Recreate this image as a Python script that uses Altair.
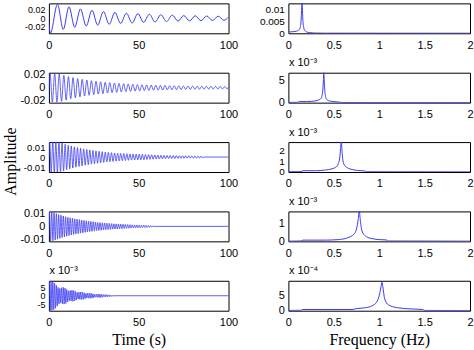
import altair as alt
import pandas as pd

LINE = "#3a3af2"

# ---------------- time histories ----------------
# panel 1: individual extremes (time s, amplitude)
p1_t = [0, 0.8, 4.8, 7.99, 11.19, 14.38, 17.58, 20.77, 23.97, 27.16, 30.36, 33.55,
        36.75, 39.94, 43.14, 46.33, 49.53, 52.72, 55.92, 59.11, 62.31, 65.5, 68.7,
        71.89, 75.09, 78.28, 81.48, 84.67, 87.87, 91.06, 94.26, 97.45, 100]
p1_v = [-0.012, -0.035, 0.033, -0.026, 0.027, -0.021, 0.022, -0.018, 0.019, -0.016,
        0.016, -0.014, 0.014, -0.012, 0.012, -0.011, 0.011, -0.0095, 0.0095, -0.0085,
        0.0085, -0.0075, 0.0075, -0.0065, 0.0065, -0.006, 0.006, -0.0055, 0.0055,
        -0.005, 0.005, -0.0045, 0.003]

# panels 2-5: oscillation period (s) and amplitude of every cycle read from the envelope
p2_period = 2.56
p2_amp = [0.022, 0.022, 0.021, 0.019, 0.017, 0.0155, 0.014, 0.0128, 0.0117, 0.0107,
          0.0098, 0.009, 0.0083, 0.0077, 0.0071, 0.0066, 0.0061, 0.0057, 0.0053, 0.0049,
          0.0046, 0.0043, 0.004, 0.0038, 0.0036, 0.0034, 0.0032, 0.003, 0.0029, 0.0027,
          0.0026, 0.0025, 0.0024, 0.0023, 0.0022, 0.0021, 0.002, 0.0019, 0.0018, 0.0017]
p3_period = 1.72
p3_amp = [0.0165, 0.016, 0.0155, 0.0148, 0.014, 0.0128, 0.0118, 0.011, 0.0102, 0.0095,
          0.0088, 0.0082, 0.0076, 0.0071, 0.0066, 0.0062, 0.0058, 0.0054, 0.005, 0.0047,
          0.0044, 0.0041, 0.0039, 0.0037, 0.0035, 0.0033, 0.0031, 0.003, 0.0029, 0.0028,
          0.0027, 0.0025, 0.0024, 0.0022, 0.0021, 0.002, 0.0018, 0.0017, 0.0016, 0.0015,
          0.0015, 0.0014, 0.0013, 0.0013, 0.0012, 0.0012, 0.0011, 0.0011, 0.001, 0.0009]
p4_period = 1.28
p4_amp = [0.0112, 0.011, 0.0105, 0.0098, 0.0092, 0.0086, 0.008, 0.0075, 0.007, 0.0066,
          0.0062, 0.0058, 0.0055, 0.0052, 0.0049, 0.0046, 0.0043, 0.004, 0.0038, 0.0036,
          0.0033, 0.0031, 0.0029, 0.0027, 0.0026, 0.0024, 0.0023, 0.0021, 0.002, 0.0019,
          0.0018, 0.0017, 0.0016, 0.0015, 0.0014, 0.0013, 0.0012, 0.0011, 0.0011, 0.001,
          0.0009, 0.0009, 0.0008, 0.0007, 0.0006, 0.0005]
p5_period = 0.97
p5_amp = [8.5, 8.5, 8.0, 7.2, 6.0, 4.8, 4.2, 4.6, 4.8, 4.4, 3.6, 2.8, 3.0, 3.2, 3.0,
          2.5, 1.9, 2.1, 2.2, 2.1, 1.7, 1.3, 1.4, 1.5, 1.4, 1.1, 0.8, 0.9, 1.0, 1.0,
          0.8, 0.6, 0.6, 0.6, 0.5, 0.4, 0.3]  # x 10^-3

# ---------------- spectra (frequency Hz, amplitude) ----------------
s1_f = [0, 0.03, 0.06, 0.09, 0.11, 0.12, 0.13, 0.14, 0.145, 0.15, 0.155, 0.16, 0.17,
        0.18, 0.2, 0.23, 0.27, 0.3, 0.4, 2.0]
s1_a = [0.0006, 0.0006, 0.0007, 0.0009, 0.0012, 0.0016, 0.0025, 0.0055, 0.0095, 0.014,
        0.0095, 0.005, 0.0022, 0.0012, 0.0006, 0.0003, 0.00015, 0.0001, 0.00005, 0.00002]
s2_f = [0, 0.1, 0.12, 0.2, 0.28, 0.33, 0.36, 0.37, 0.38, 0.385, 0.39, 0.395, 0.4, 0.41,
        0.42, 0.45, 0.5, 0.55, 0.6, 2.0]
s2_a = [0.05, 0.08, 0.25, 0.25, 0.35, 0.6, 1.0, 1.6, 3.2, 5.0, 7.0, 5.0, 3.0, 1.4, 0.8,
        0.4, 0.25, 0.15, 0.03, 0.01]  # x 10^-3
s3_f = [0, 0.14, 0.16, 0.3, 0.4, 0.48, 0.53, 0.55, 0.565, 0.575, 0.582, 0.59, 0.6, 0.62,
        0.66, 0.72, 0.8, 0.84, 0.86, 2.0]
s3_a = [0.02, 0.03, 0.12, 0.12, 0.18, 0.3, 0.5, 0.8, 1.3, 2.2, 3.0, 2.0, 1.1, 0.6, 0.35,
        0.2, 0.12, 0.1, 0.02, 0.01]  # x 10^-3
s4_f = [0, 0.14, 0.16, 0.4, 0.55, 0.65, 0.72, 0.75, 0.77, 0.78, 0.79, 0.81, 0.85, 0.9,
        1.0, 1.08, 1.1, 2.0]
s4_a = [0.01, 0.02, 0.07, 0.07, 0.1, 0.2, 0.4, 0.7, 1.3, 1.8, 1.3, 0.6, 0.3, 0.18, 0.1,
        0.08, 0.02, 0.01]  # x 10^-3
s5_f = [0, 0.14, 0.16, 0.7, 0.75, 0.85, 0.92, 0.97, 1.0, 1.02, 1.03, 1.04, 1.06, 1.1,
        1.2, 1.35, 1.48, 1.5, 2.0]
s5_a = [0.1, 0.15, 0.4, 0.4, 0.7, 1.0, 1.6, 2.8, 5.0, 8.0, 9.5, 8.0, 4.0, 2.0, 1.0,
        0.6, 0.4, 0.1, 0.05]  # x 10^-4

# ---------------- axis settings ----------------
time_ticks = [0, 50, 100]
time_labels = ["0", "50", "100"]
freq_ticks = [0, 0.5, 1, 1.5, 2]
freq_labels = ["0", "0.5", "1", "1.5", "2"]

left_dom = [[-0.035, 0.035], [-0.023, 0.023], [-0.015, 0.015], [-0.0115, 0.0115], [-8.6, 8.6]]
left_ticks = [[-0.02, 0, 0.02], [-0.02, 0, 0.02], [-0.01, 0, 0.01], [-0.01, 0, 0.01], [-5, 0, 5]]
left_labels = [["-0.02", "0", "0.02"], ["-0.02", "0", "0.02"], ["-0.01", "0", "0.01"],
               ["-0.01", "0", "0.01"], ["-5", "0", "5"]]
left_label_size = [9, 11, 9.5, 11, 9]
right_dom = [[0, 0.0125], [0, 6.9], [0, 2.8], [0, 1.7], [0, 10.0]]
right_ticks = [[0, 0.005, 0.01], [0, 5], [0, 1, 2], [0, 1], [0, 5]]
right_labels = [["0", "0.005", "0.01"], ["0", "5"], ["0", "1", "2"], ["0", "1"], ["0", "5"]]
right_label_size = [10, 11, 10, 11, 11]
right_exp = [None, "x 10\u207b\u00b3", "x 10\u207b\u00b3", "x 10\u207b\u00b3", "x 10\u207b\u2074"]
left_exp = [None, None, None, None, "x 10\u207b\u00b3"]


def cycles(period, amps):
    t, v = [0.0], [0.0]
    for k, a in enumerate(amps):
        t += [k * period + period / 4, k * period + 3 * period / 4]
        v += [a, -a]
    t.append(len(amps) * period)
    v.append(0.0)
    if t[-1] < 100:
        t.append(100.0)
        v.append(0.0)
    return pd.DataFrame({"t": t, "v": v})


def lab_expr(vals, labs):
    expr = "''"
    for val, lab in reversed(list(zip(vals, labs))):
        expr = f"abs(datum.value - ({val})) < 1e-9 ? '{lab}' : {expr}"
    return expr


time_dfs = [pd.DataFrame({"t": p1_t, "v": p1_v}), cycles(p2_period, p2_amp),
            cycles(p3_period, p3_amp), cycles(p4_period, p4_amp), cycles(p5_period, p5_amp)]
spec_dfs = [pd.DataFrame({"f": f, "a": a}) for f, a in
            [(s1_f, s1_a), (s2_f, s2_a), (s3_f, s3_a), (s4_f, s4_a), (s5_f, s5_a)]]

LABEL = dict(labelFont="Liberation Sans", labelColor="black",
             grid=False, domain=False, ticks=False, labelOverlap=False, labelFlush=False,
             labelBound=False)
SERIF = dict(titleFont="Liberation Serif", titleFontSize=16, titleFontWeight="normal",
             titleColor="black")
EXP = dict(titleFont="Liberation Sans", titleFontSize=11, titleFontWeight="normal",
           titleColor="black", titleAngle=0, titleX=0, titleY=-10, titleAlign="left",
           titleBaseline="middle")

charts = []
for i in range(5):
    last = i == 4
    # ---- left: time history ----
    yopts = dict(values=left_ticks[i], labelExpr=lab_expr(left_ticks[i], left_labels[i]),
                 labelPadding=4, labelFontSize=left_label_size[i], **LABEL)
    if i == 2:
        yaxis = alt.Axis(title="Amplitude", titleX=-38, titleY=19, titleAngle=270,
                         titleAlign="center", titleBaseline="middle", **SERIF, **yopts)
    elif left_exp[i]:
        yaxis = alt.Axis(title=left_exp[i], **EXP, **yopts)
    else:
        yaxis = alt.Axis(title=None, **yopts)
    xopts = dict(values=time_ticks, labelExpr=lab_expr(time_ticks, time_labels),
                 labelPadding=6, labelFontSize=11, **LABEL)
    xaxis = alt.Axis(title="Time (s)", titlePadding=4, **SERIF, **xopts) if last else alt.Axis(title=None, **xopts)
    lc = alt.Chart(time_dfs[i]).mark_line(
        color=LINE, strokeWidth=1 if i == 0 else 0.8, clip=True, interpolate="monotone"
    ).encode(
        x=alt.X("t:Q", scale=alt.Scale(domain=[0, 100], nice=False, zero=False), axis=xaxis),
        y=alt.Y("v:Q", scale=alt.Scale(domain=left_dom[i], nice=False, zero=False), axis=yaxis),
    ).properties(width=180, height=30)
    charts.append(lc)

    # ---- right: spectrum ----
    yopts = dict(values=right_ticks[i], labelExpr=lab_expr(right_ticks[i], right_labels[i]),
                 labelPadding=4, labelFontSize=right_label_size[i], **LABEL)
    yaxis = alt.Axis(title=right_exp[i], **EXP, **yopts) if right_exp[i] else alt.Axis(title=None, **yopts)
    xopts = dict(values=freq_ticks, labelExpr=lab_expr(freq_ticks, freq_labels),
                 labelPadding=6, labelFontSize=11, **LABEL)
    xaxis = alt.Axis(title="Frequency (Hz)", titlePadding=4, **SERIF, **xopts) if last else alt.Axis(title=None, **xopts)
    rc = alt.Chart(spec_dfs[i]).mark_line(
        color=LINE, strokeWidth=1, clip=True, interpolate="monotone"
    ).encode(
        x=alt.X("f:Q", scale=alt.Scale(domain=[0, 2], nice=False, zero=False), axis=xaxis),
        y=alt.Y("a:Q", scale=alt.Scale(domain=right_dom[i], nice=False, zero=False), axis=yaxis),
    ).properties(width=182, height=30)
    charts.append(rc)

chart = alt.concat(
    *charts, columns=2, spacing={"row": 39.5, "column": 60}, bounds="flush"
).properties(
    padding={"left": 2, "top": 2, "right": 0, "bottom": 0}
).configure_view(stroke="black", strokeWidth=1)

chart.save("out.html", embed_options={"renderer": "svg", "actions": False})
